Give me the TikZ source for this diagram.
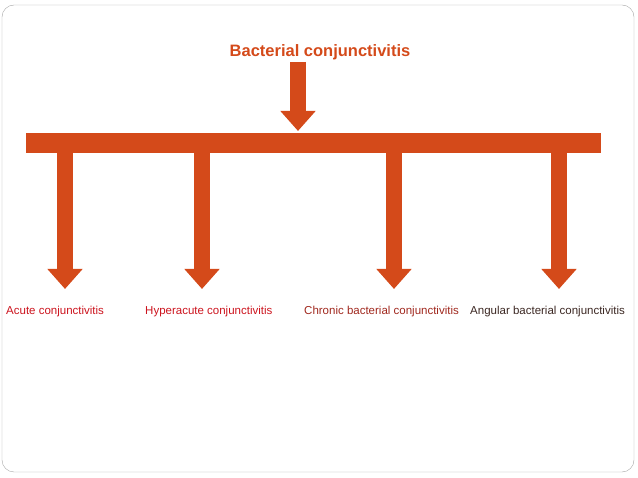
\documentclass[tikz,border=0pt]{standalone}
\usepackage{fontspec}
\setmainfont{Liberation Sans}
\usetikzlibrary{arrows.meta,positioning}
\definecolor{slideorange}{RGB}{212,74,26}
\definecolor{labelred}{RGB}{204,20,30}
\definecolor{labelbrown}{RGB}{160,40,30}
\definecolor{labeldark}{RGB}{60,40,35}
\begin{document}
\begin{tikzpicture}[x=1pt,y=-1pt,
        bar/.style={rectangle, fill=slideorange, inner sep=0pt, minimum width=575pt, minimum height=20pt},
        arrow/.style={-{Triangle[width=34pt,length=20pt]}, line width=16pt, slideorange},
        leaf/.style={anchor=west, font=\fontsize{11.5}{13}\selectfont, inner sep=0pt}
    ]
    \useasboundingbox (0,0) rectangle (638,478);
    \draw[gray!70, rounded corners=12pt] (2,5) rectangle (634,472);
    \node[text=slideorange, font=\bfseries\fontsize{16.5}{19}\selectfont] (title) at (320,52) {Bacterial conjunctivitis};
    \node[bar] (bar) at (313.5,143) {};
    \coordinate (top) at (298,62);
    \draw[arrow] (top) -- (298,131) coordinate (topend);
    % branches
    \foreach \x/\n in {65/a, 202/h, 394/c, 559/g} {
        \coordinate (\n) at (\x,153);
        \draw[arrow] (\n) -- (\x,289);
    }
    \node[leaf, text=labelred] (acute) at (6,312) {Acute conjunctivitis};
    \node[leaf, text=labelred] (hyper) at (145,312) {Hyperacute conjunctivitis};
    \node[leaf, text=labelbrown] (chronic) at (304,312) {Chronic bacterial conjunctivitis};
    \node[leaf, text=labeldark] (angular) at (470,312) {Angular bacterial conjunctivitis};
\end{tikzpicture}
\end{document}
